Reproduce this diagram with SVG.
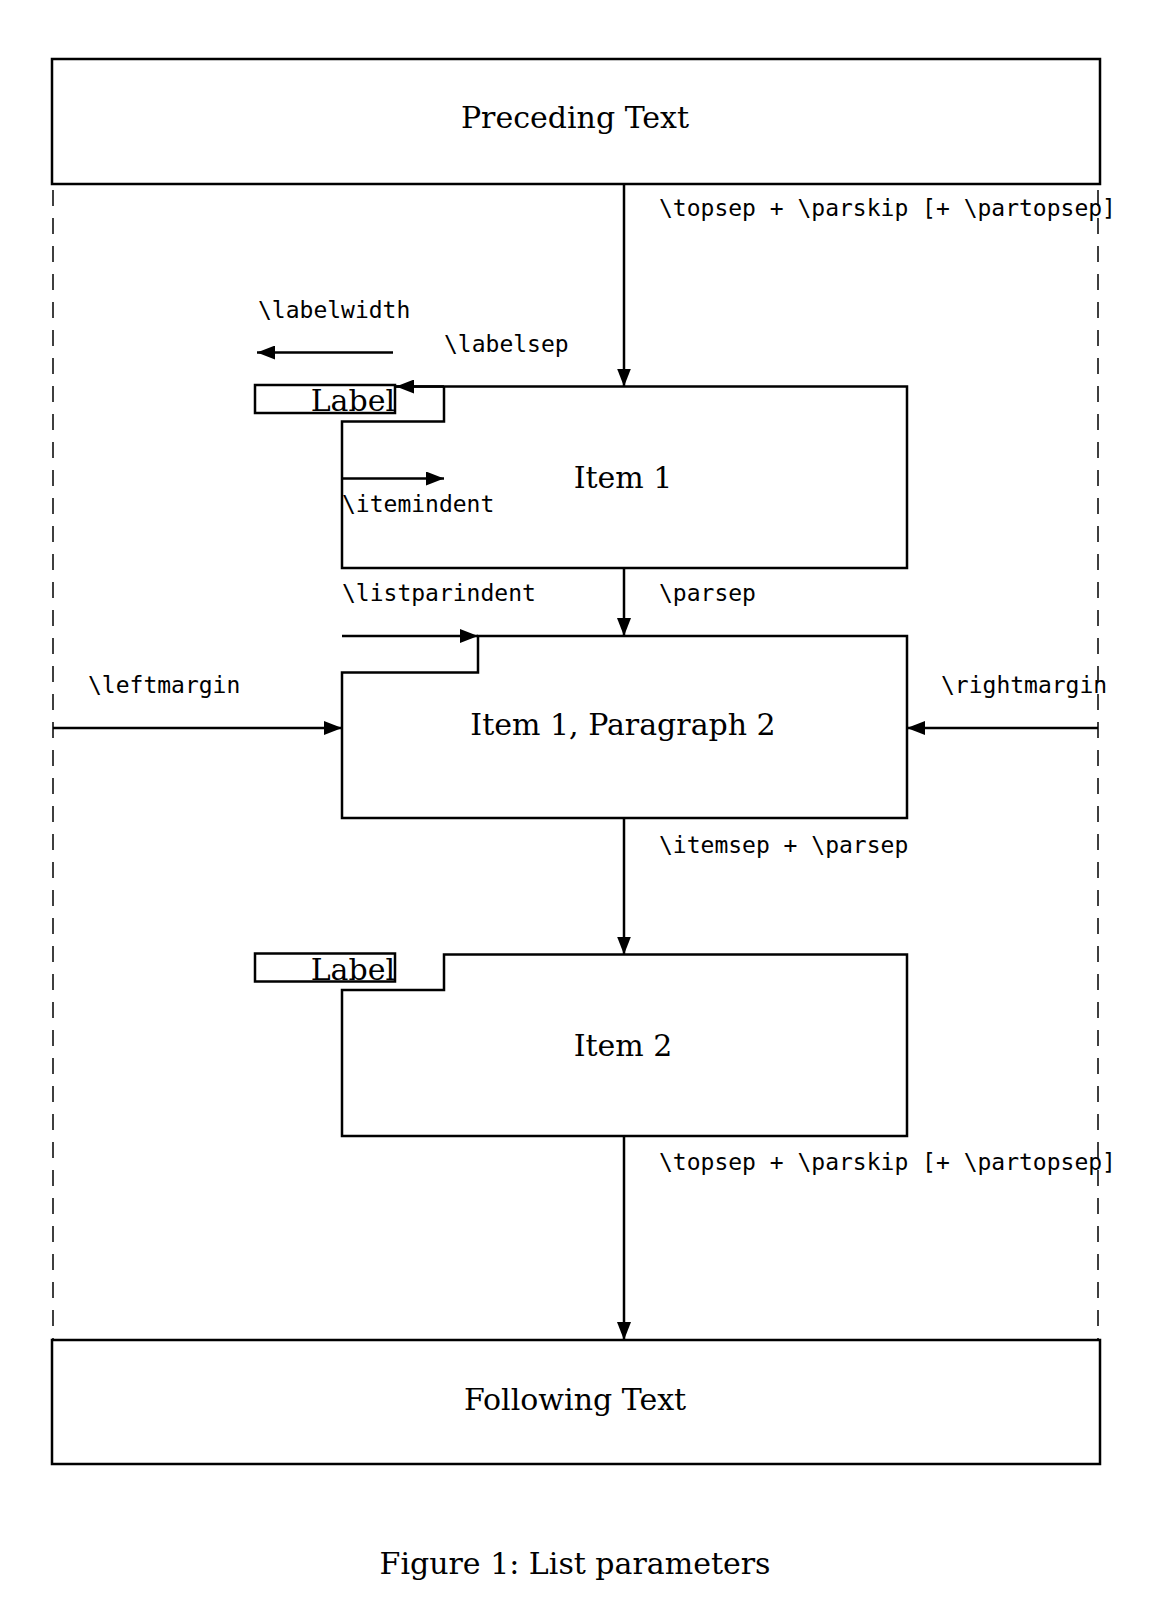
<svg xmlns="http://www.w3.org/2000/svg" width="1174" height="1621" viewBox="0 0 1174 1621">
<style>
.s{font-family:"DejaVu Serif","Liberation Serif",serif;font-size:30px;fill:#000}
.m{font-family:"DejaVu Sans Mono","Liberation Mono",monospace;font-size:23px;fill:#000}
.b{fill:#fff;stroke:#000;stroke-width:2.5}
.l{fill:none;stroke:#000;stroke-width:2.5}
.a{fill:none;stroke:#000;stroke-width:2.5;marker-end:url(#ah)}
.d{fill:none;stroke:#000;stroke-width:1.5;stroke-dasharray:16 12}
</style>
<defs>
<marker id="ah" markerUnits="userSpaceOnUse" markerWidth="20" markerHeight="14" refX="18" refY="7" orient="auto"><path d="M0,0 L18,7 L0,14 Z" fill="#000"/></marker>
</defs>
<rect width="1174" height="1621" fill="#fff"/>
<g id="margins">
<line class="d" x1="53" y1="190" x2="53" y2="1340"/>
<line class="d" x1="1098" y1="190" x2="1098" y2="1340"/>
</g>
<g id="preceding"><rect class="b" x="52" y="59" width="1048" height="125"/><text class="s" x="575" y="128" text-anchor="middle">Preceding Text</text></g>
<g id="item1">
<path class="l" d="M395,386.5 H907 V568 H342 V421.5 H444 V386.5"/>
<text class="s" x="623" y="488" text-anchor="middle">Item 1</text>
</g>
<g id="label1"><rect class="l" x="255" y="385" width="140" height="28"/><text class="s" x="395" y="411" text-anchor="end">Label</text></g>
<g id="item1p2">
<path class="l" d="M478,636 H907 V818 H342 V672.5 H478 Z"/>
<text class="s" x="623" y="735" text-anchor="middle">Item 1, Paragraph 2</text>
</g>
<g id="item2">
<path class="l" d="M444,954.5 H907 V1136 H342 V990 H444 Z"/>
<text class="s" x="623" y="1056" text-anchor="middle">Item 2</text>
</g>
<g id="label2"><rect class="l" x="255" y="953.5" width="140" height="28"/><text class="s" x="395" y="980" text-anchor="end">Label</text></g>
<g id="following"><rect class="b" x="52" y="1340" width="1048" height="124"/><text class="s" x="575" y="1410" text-anchor="middle">Following Text</text></g>
<g id="connectors">
<line class="a" x1="624" y1="184" x2="624" y2="386.5"/>
<line class="a" x1="393" y1="352.5" x2="257" y2="352.5"/>
<line class="a" x1="444" y1="386.5" x2="396" y2="386.5"/>
<line class="a" x1="342" y1="478.5" x2="444" y2="478.5"/>
<line class="a" x1="624" y1="568" x2="624" y2="636"/>
<line class="a" x1="342" y1="636" x2="478" y2="636"/>
<line class="a" x1="53" y1="728" x2="342" y2="728"/>
<line class="a" x1="1098" y1="728" x2="907" y2="728"/>
<line class="a" x1="624" y1="818" x2="624" y2="954.5"/>
<line class="a" x1="624" y1="1136" x2="624" y2="1340"/>
</g>
<g id="labels">
<text class="m" x="659" y="216">\topsep + \parskip [+ \partopsep]</text>
<text class="m" x="258" y="318">\labelwidth</text>
<text class="m" x="444" y="352">\labelsep</text>
<text class="m" x="342" y="512">\itemindent</text>
<text class="m" x="342" y="601">\listparindent</text>
<text class="m" x="659" y="601">\parsep</text>
<text class="m" x="88" y="693">\leftmargin</text>
<text class="m" x="941" y="693">\rightmargin</text>
<text class="m" x="659" y="853">\itemsep + \parsep</text>
<text class="m" x="659" y="1170">\topsep + \parskip [+ \partopsep]</text>
</g>
<text class="s" x="575" y="1574" text-anchor="middle">Figure 1: List parameters</text>
</svg>
